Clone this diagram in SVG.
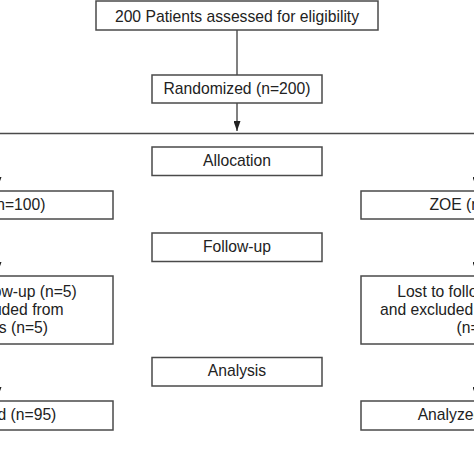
<svg xmlns="http://www.w3.org/2000/svg" width="474" height="474" viewBox="0 0 474 474">
<defs>
<style>
.box{fill:#fff;stroke:#4a4a4a;stroke-width:1.5}
.t{font-family:"Liberation Sans",Arial,sans-serif;font-size:15.7px;fill:#222;text-anchor:middle}
.ln{stroke:#4a4a4a;stroke-width:1.4;fill:none}
</style>
<marker id="ah" viewBox="0 0 10 7" refX="10" refY="3.5" markerWidth="10" markerHeight="7" markerUnits="userSpaceOnUse" orient="auto">
<path d="M0,0 L10,3.5 L0,7 z" fill="#222"/>
</marker>
</defs>
<rect width="474" height="474" fill="#fff"/>
<g id="connectors">
<line class="ln" x1="237" y1="30" x2="237" y2="75"/>
<line class="ln" x1="237" y1="103" x2="237" y2="131" marker-end="url(#ah)"/>
<line class="ln" x1="0" y1="133.5" x2="474" y2="133.5"/>
<line class="ln" x1="-2" y1="133.5" x2="-2" y2="187" marker-end="url(#ah)"/>
<line class="ln" x1="476" y1="133.5" x2="476" y2="187" marker-end="url(#ah)"/>
<line class="ln" x1="-2" y1="219" x2="-2" y2="272" marker-end="url(#ah)"/>
<line class="ln" x1="476" y1="219" x2="476" y2="272" marker-end="url(#ah)"/>
<line class="ln" x1="-2" y1="344" x2="-2" y2="397" marker-end="url(#ah)"/>
<line class="ln" x1="476" y1="344" x2="476" y2="397" marker-end="url(#ah)"/>
</g>
<g id="assessed">
<rect class="box" x="96" y="1" width="282" height="29"/>
<text class="t" x="237" y="22">200 Patients assessed for eligibility</text>
</g>
<g id="randomized">
<rect class="box" x="152" y="75" width="170" height="28"/>
<text class="t" x="237" y="94">Randomized (n=200)</text>
</g>
<g id="allocation">
<rect class="box" x="152" y="147" width="170" height="28.5"/>
<text class="t" x="237" y="166">Allocation</text>
</g>
<g id="left-alloc">
<rect class="box" x="-117" y="191" width="230" height="28"/>
<text class="t" x="45.5" y="210" style="text-anchor:end">(n=100)</text>
</g>
<g id="right-alloc">
<rect class="box" x="361" y="191" width="230" height="28"/>
<text class="t" x="475" y="210">ZOE (n=100)</text>
</g>
<g id="followup">
<rect class="box" x="152" y="233" width="170" height="28.5"/>
<text class="t" x="237" y="252">Follow-up</text>
</g>
<g id="left-lost">
<rect class="box" x="-117" y="276" width="230" height="68"/>
<text class="t" x="-1" y="297">Lost to follow-up (n=5)</text>
<text class="t" x="-1" y="314.5">and excluded from</text>
<text class="t" x="-1" y="332.5">analysis (n=5)</text>
</g>
<g id="right-lost">
<rect class="box" x="361" y="276" width="230" height="68"/>
<text class="t" x="475" y="297">Lost to follow-up (n=5)</text>
<text class="t" x="475" y="314.5">and excluded from analysis</text>
<text class="t" x="475" y="332.5">(n=5)</text>
</g>
<g id="analysis">
<rect class="box" x="152" y="357.5" width="170" height="28.5"/>
<text class="t" x="237" y="376">Analysis</text>
</g>
<g id="left-analyzed">
<rect class="box" x="-117" y="401" width="230" height="29"/>
<text class="t" x="-1" y="420">Analyzed (n=95)</text>
</g>
<g id="right-analyzed">
<rect class="box" x="361" y="401" width="230" height="29"/>
<text class="t" x="475" y="420">Analyzed (n=95)</text>
</g>
</svg>
